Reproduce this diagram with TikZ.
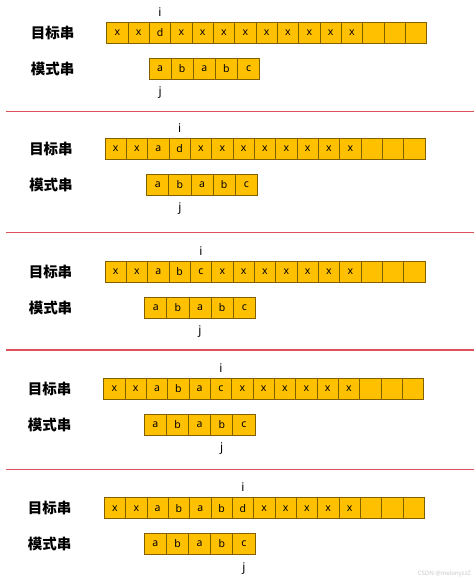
\documentclass[tikz,border=0pt]{standalone}
\usepackage{fontspec}
\setmainfont{Noto Sans}
\newfontfamily\cjkfont{Noto Sans CJK SC}
\definecolor{cellfill}{RGB}{255,192,0}
\definecolor{celledge}{RGB}{128,96,0}
\definecolor{sepred}{RGB}{222,80,90}
\definecolor{wmgray}{RGB}{200,200,200}
\tikzset{
  cellbox/.style={draw=celledge, fill=cellfill, line width=0.8pt, minimum width=#1, minimum height=21pt, inner sep=0pt, font=\fontsize{10.5}{12}\selectfont, text=black},
  rowlabel/.style={font=\cjkfont\bfseries\fontsize{14.5}{16}\selectfont, inner sep=0pt},
  ptr/.style={font=\fontsize{12}{14}\selectfont, inner sep=0pt},
  sepline/.style={draw=sepred, line width=1.1pt},
}
% #1 id, #2 target left, #3 target top, #4 pattern left, #5 pattern top,
% #6 i index, #7 j index, #8 target letters, #9 label x
\newcommand\kmppanel[9]{%
  \foreach \c [count=\k from 0] in {#8} {
    \node[cellbox=21.33pt] (p#1t\k) at ({#2+\k*21.33+10.665},{#3+10.5}) {\c};
  }
  \foreach \c [count=\k from 0] in {a,b,a,b,c} {
    \node[cellbox=22.13pt] (p#1p\k) at ({#4+\k*22.13+11.065},{#5+10.5}) {\c};
  }
  \node[rowlabel] (p#1lt) at (#9,{#3+10.5}) {目标串};
  \node[rowlabel] (p#1lp) at (#9,{#5+10.5}) {模式串};
  \node[ptr] (p#1i) at ([yshift=10pt]p#1t#6.north) {i};
  \node[ptr] (p#1j) at ([yshift=-13.5pt]p#1p#7.south) {j};
}
\begin{document}
\begin{tikzpicture}[x=1pt,y=-1pt]
\useasboundingbox (0,0) rectangle (474,582);
\kmppanel{1}{106.7}{22.3}{149}{58}{2}{0}{x,x,d,x,x,x,x,x,x,x,x,x,{},{},{}}{52.5}
\kmppanel{2}{105}{138.3}{146.7}{174}{3}{1}{x,x,a,d,x,x,x,x,x,x,x,x,{},{},{}}{51}
\kmppanel{3}{105}{261.3}{144.7}{297}{4}{2}{x,x,a,b,c,x,x,x,x,x,x,x,{},{},{}}{50.5}
\kmppanel{4}{103.7}{378.3}{144.3}{414}{5}{3}{x,x,a,b,a,c,x,x,x,x,x,x,{},{},{}}{49.5}
\kmppanel{5}{104.3}{497.7}{144.3}{533.3}{6}{4}{x,x,a,b,a,b,d,x,x,x,x,x,{},{},{}}{49.5}
\coordinate (s1a) at (6,111.7); \coordinate (s1b) at (474,111.7);
\coordinate (s2a) at (6,232.5); \coordinate (s2b) at (474,232.5);
\coordinate (s3a) at (6,350);   \coordinate (s3b) at (474,350);
\coordinate (s4a) at (6,469.5); \coordinate (s4b) at (474,469.5);
\draw[sepline] (s1a) -- (s1b);
\draw[sepline] (s2a) -- (s2b);
\draw[sepline] (s3a) -- (s3b);
\draw[sepline] (s4a) -- (s4b);
\node[font=\fontsize{6}{7}\selectfont, text=wmgray, inner sep=0pt, anchor=east] (wm) at (471,574) {CSDN @melonyzzZ};
\end{tikzpicture}
\end{document}
